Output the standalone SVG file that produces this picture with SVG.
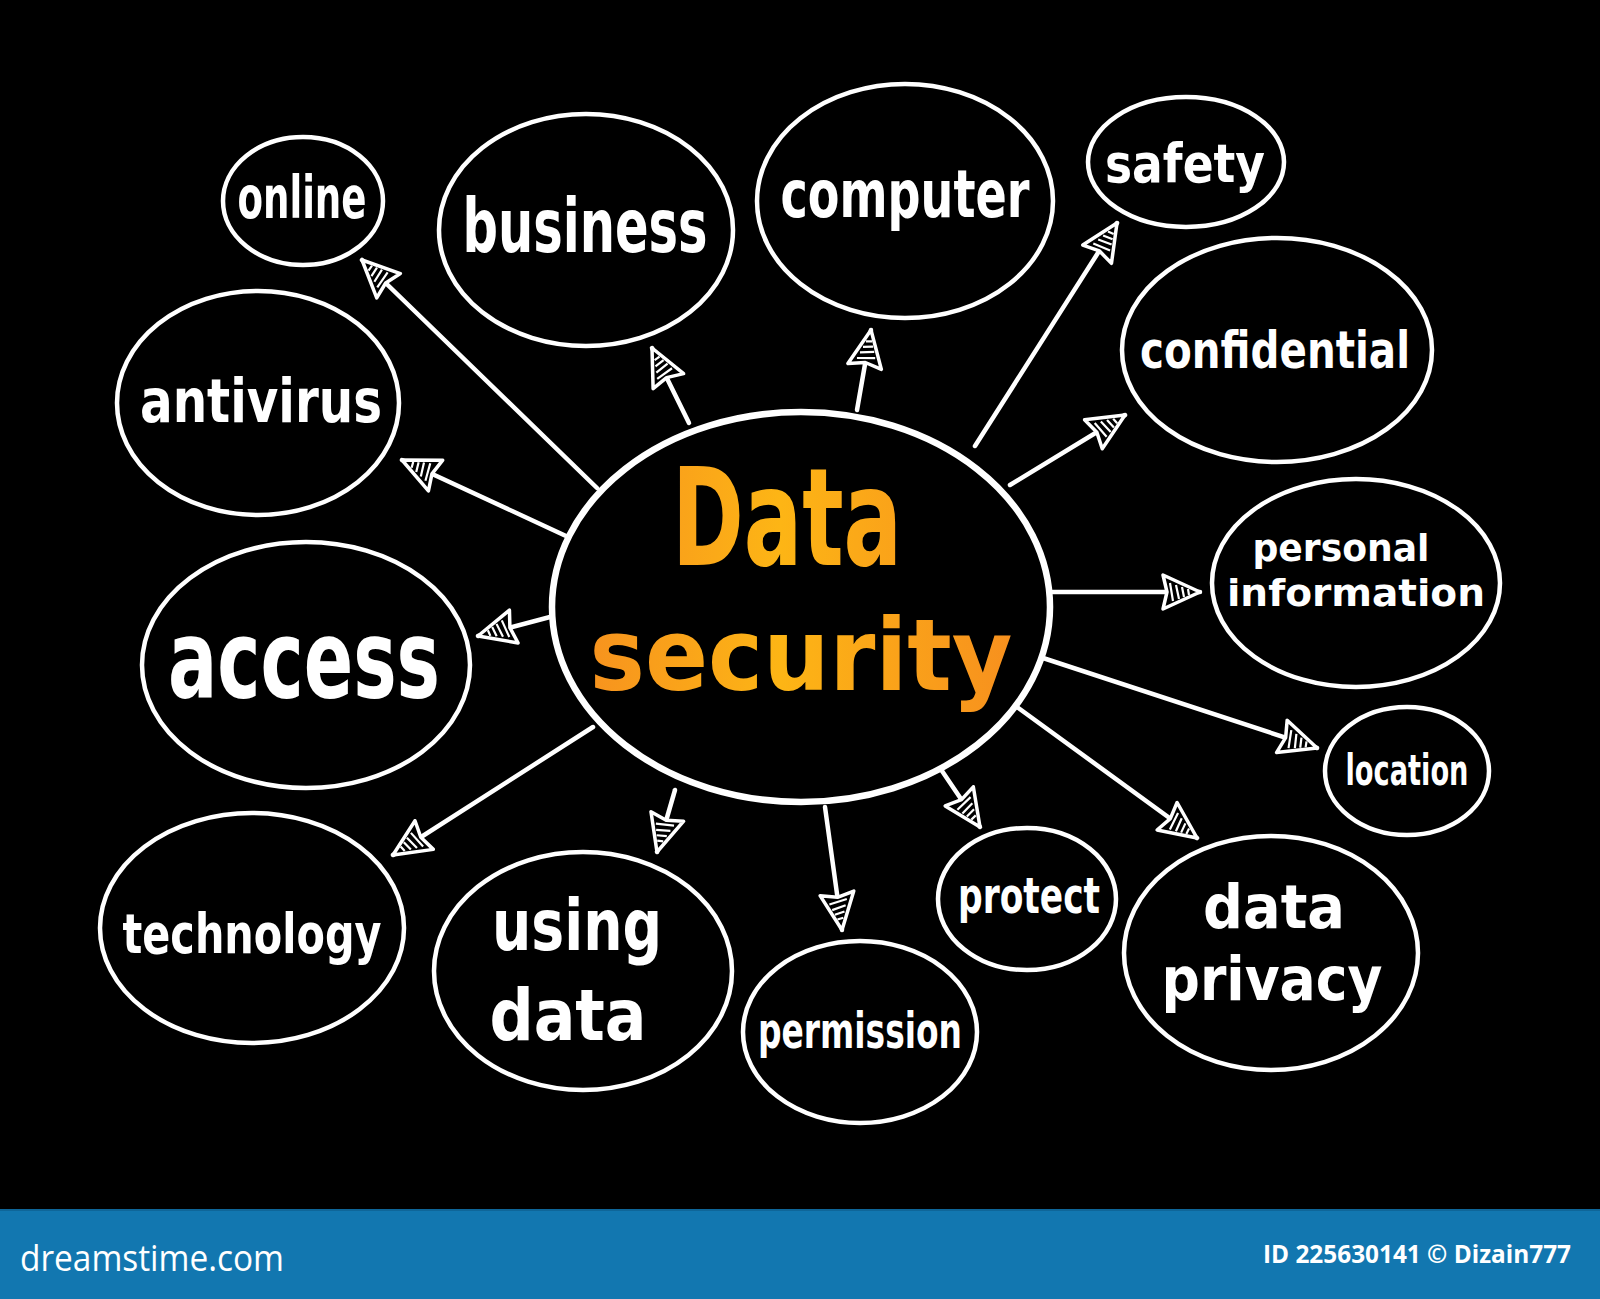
<svg xmlns="http://www.w3.org/2000/svg" width="1600" height="1299" viewBox="0 0 1600 1299">
<style>
.node ellipse{fill:#000;stroke:#fff;stroke-width:4.5}
.lbl{fill:#fff;font-family:"DejaVu Sans Condensed","DejaVu Sans",sans-serif;font-weight:bold;text-anchor:middle}
.title{fill:url(#og);font-family:"DejaVu Sans Condensed","DejaVu Sans",sans-serif;font-weight:bold;text-anchor:middle}
.conn line{stroke:#fff;stroke-width:4.5;stroke-linecap:round;marker-end:url(#ah)}
.foot{fill:#fff;font-family:"Open Sans","Noto Sans",sans-serif}
</style>
<defs>
<marker id="ah" viewBox="0 0 44 40" markerWidth="44" markerHeight="40" refX="40" refY="20" orient="auto" markerUnits="userSpaceOnUse">
<path d="M40,20 L3,3 L7,20 L3,37 Z" fill="#000" stroke="#fff" stroke-width="3.5" stroke-linejoin="round"/>
<path d="M10,11 L13,29 M16,13 L19,27 M22,15 L24,25 M28,17 L29,23" stroke="#fff" stroke-width="2.2" fill="none"/>
</marker>
<linearGradient id="og" x1="590" y1="0" x2="1013" y2="0" gradientUnits="userSpaceOnUse">
<stop offset="0" stop-color="#f7931e"/>
<stop offset="0.45" stop-color="#fdb515"/>
<stop offset="1" stop-color="#f7901e"/>
</linearGradient>
</defs>
<rect x="0" y="0" width="1600" height="1299" fill="#000"/>

<g id="connectors" class="conn">
<line x1="597" y1="488" x2="362" y2="260"/>
<line x1="689" y1="423" x2="652" y2="348"/>
<line x1="857" y1="410" x2="871" y2="330"/>
<line x1="975" y1="446" x2="1117" y2="223"/>
<line x1="1010" y1="485" x2="1125" y2="415"/>
<line x1="1050" y1="592" x2="1200" y2="592"/>
<line x1="1040" y1="657" x2="1317" y2="748"/>
<line x1="1017" y1="707" x2="1197" y2="838"/>
<line x1="940" y1="768" x2="980" y2="827"/>
<line x1="825" y1="807" x2="842" y2="930"/>
<line x1="675" y1="790" x2="657" y2="852"/>
<line x1="593" y1="727" x2="393" y2="855"/>
<line x1="550" y1="617" x2="478" y2="636"/>
<line x1="566" y1="536" x2="402" y2="460"/>
</g>

<g id="center" class="node">
<ellipse cx="801" cy="607" rx="249" ry="195" style="stroke-width:6.5"/>
<text class="title" x="787" y="565" font-size="135" textLength="230" lengthAdjust="spacingAndGlyphs">Data</text>
<text class="title" x="801" y="690" font-size="100" textLength="423" lengthAdjust="spacingAndGlyphs">security</text>
</g>

<g id="online" class="node">
<ellipse cx="303" cy="201" rx="80" ry="64"/>
<text class="lbl" x="302" y="218" font-size="58" textLength="129" lengthAdjust="spacingAndGlyphs">online</text>
</g>
<g id="business" class="node">
<ellipse cx="586" cy="230" rx="147" ry="116"/>
<text class="lbl" x="585" y="252" font-size="75" textLength="245" lengthAdjust="spacingAndGlyphs">business</text>
</g>
<g id="computer" class="node">
<ellipse cx="905" cy="201" rx="148" ry="117"/>
<text class="lbl" x="905" y="217" font-size="66" textLength="249" lengthAdjust="spacingAndGlyphs">computer</text>
</g>
<g id="safety" class="node">
<ellipse cx="1186" cy="162" rx="98" ry="65"/>
<text class="lbl" x="1185" y="182" font-size="54" textLength="160" lengthAdjust="spacingAndGlyphs">safety</text>
</g>
<g id="confidential" class="node">
<ellipse cx="1277" cy="350" rx="155" ry="112"/>
<text class="lbl" x="1275" y="368" font-size="51" textLength="270" lengthAdjust="spacingAndGlyphs">confidential</text>
</g>
<g id="personal-information" class="node">
<ellipse cx="1356" cy="583" rx="144" ry="104"/>
<text class="lbl" x="1341" y="561" font-size="38" textLength="177" lengthAdjust="spacingAndGlyphs">personal</text>
<text class="lbl" x="1356" y="606" font-size="38" textLength="258" lengthAdjust="spacingAndGlyphs">information</text>
</g>
<g id="location" class="node">
<ellipse cx="1407" cy="771" rx="82" ry="64"/>
<text class="lbl" x="1407" y="785" font-size="42" textLength="123" lengthAdjust="spacingAndGlyphs">location</text>
</g>
<g id="antivirus" class="node">
<ellipse cx="258" cy="403" rx="141" ry="112"/>
<text class="lbl" x="261" y="422" font-size="61" textLength="242" lengthAdjust="spacingAndGlyphs">antivirus</text>
</g>
<g id="access" class="node">
<ellipse cx="306" cy="665" rx="164" ry="123"/>
<text class="lbl" x="304" y="697" font-size="108" textLength="272" lengthAdjust="spacingAndGlyphs">access</text>
</g>
<g id="technology" class="node">
<ellipse cx="252" cy="928" rx="152" ry="115"/>
<text class="lbl" x="252" y="953" font-size="55" textLength="259" lengthAdjust="spacingAndGlyphs">technology</text>
</g>
<g id="using-data" class="node">
<ellipse cx="583" cy="971" rx="149" ry="119"/>
<text class="lbl" x="577" y="950" font-size="72" textLength="170" lengthAdjust="spacingAndGlyphs">using</text>
<text class="lbl" x="568" y="1040" font-size="72" textLength="157" lengthAdjust="spacingAndGlyphs">data</text>
</g>
<g id="permission" class="node">
<ellipse cx="860" cy="1032" rx="117" ry="91"/>
<text class="lbl" x="860" y="1048" font-size="50" textLength="204" lengthAdjust="spacingAndGlyphs">permission</text>
</g>
<g id="protect" class="node">
<ellipse cx="1027" cy="899" rx="89" ry="71"/>
<text class="lbl" x="1029" y="913" font-size="50" textLength="142" lengthAdjust="spacingAndGlyphs">protect</text>
</g>
<g id="data-privacy" class="node">
<ellipse cx="1271" cy="953" rx="147" ry="117"/>
<text class="lbl" x="1274" y="928" font-size="61" textLength="142" lengthAdjust="spacingAndGlyphs">data</text>
<text class="lbl" x="1272" y="1000" font-size="61" textLength="221" lengthAdjust="spacingAndGlyphs">privacy</text>
</g>

<g id="footer">
<rect x="0" y="1209" width="1600" height="90" fill="#1277b0"/>
<rect x="0" y="1209" width="1600" height="2" fill="#0e6699"/>
<text class="foot" x="20" y="1271" font-size="36" textLength="264" lengthAdjust="spacingAndGlyphs">dreamstime.com</text>
<text class="foot" x="1263" y="1263" font-size="25" font-weight="700" textLength="308" lengthAdjust="spacingAndGlyphs">ID 225630141 © Dizain777</text>
</g>
</svg>
